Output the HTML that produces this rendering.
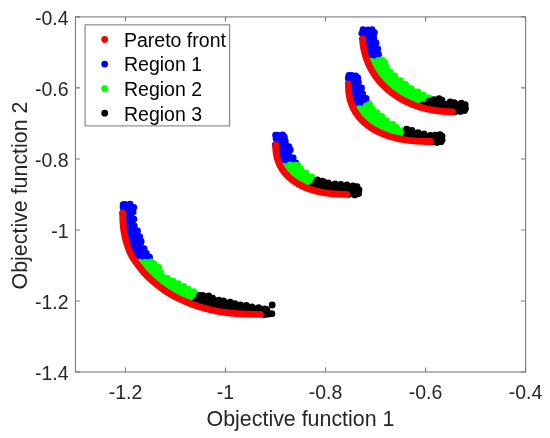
<!DOCTYPE html>
<html><head><meta charset="utf-8"><title>Pareto front</title>
<style>html,body{margin:0;padding:0;background:#fff;overflow:hidden}svg{display:block}</style></head>
<body>
<svg width="550" height="438" viewBox="0 0 550 438" style="display:block">
<rect x="0" y="0" width="550" height="438" fill="#fff"/>
<polygon points="122.7,213.0 122.7,214.7 122.7,216.2 122.8,217.5 122.8,218.8 122.8,220.1 122.9,221.4 123.0,222.6 123.1,223.8 123.2,224.9 123.3,226.1 123.4,227.2 123.5,228.4 123.7,229.5 123.8,230.6 124.0,231.7 124.2,232.8 124.4,233.8 124.6,234.9 124.8,236.0 125.0,237.0 125.3,238.0 125.5,239.1 125.8,240.1 126.1,241.1 126.3,242.1 126.6,243.1 126.9,244.1 127.3,245.1 127.6,246.1 127.9,247.1 128.3,248.0 128.7,249.0 129.0,250.0 129.4,250.9 129.8,251.8 130.2,252.8 130.7,253.7 131.1,254.6 131.6,255.5 132.1,256.4 132.6,257.3 133.1,258.1 133.7,259.0 134.2,259.8 134.8,260.7 135.4,261.5 136.0,262.3 136.6,263.1 137.2,264.0 137.8,264.8 138.4,265.6 139.1,266.4 139.7,267.2 140.3,268.0 140.9,268.8 141.5,269.6 142.2,270.4 142.8,271.1 143.5,271.9 144.1,272.7 144.8,273.4 145.5,274.2 146.2,274.9 146.9,275.7 147.7,276.4 148.4,277.1 149.1,277.9 149.9,278.6 160.2,268.0 152.0,260.4 153.9,259.0 151.9,258.6 151.3,257.5 150.7,256.4 150.1,255.3 149.5,254.2 148.8,253.2 148.1,252.2 147.4,251.2 146.7,250.1 145.9,249.0 145.1,247.9 144.4,246.8 144.0,245.7 143.6,244.5 143.2,243.3 142.8,242.2 142.4,241.1 142.0,240.0 141.6,238.9 141.3,237.8 141.0,236.6 140.7,235.4 140.4,234.3 140.1,233.1 139.8,232.1 139.5,231.1 139.3,230.0 138.6,229.3 138.0,228.5 137.2,227.6 136.5,226.6 135.7,225.5 135.6,224.1 135.5,222.7 135.5,221.3 135.4,220.1 135.0,218.9 134.6,217.5 134.1,216.1 133.7,214.6 134.2,213.5 134.7,212.5 135.3,211.5 135.7,210.7 135.6,209.6 135.6,208.7 135.5,207.7 135.5,206.7 134.7,206.0 134.0,205.3 133.4,204.7 132.5,203.9 131.5,203.5 130.4,203.1 129.4,202.7 128.3,202.7 127.1,202.7 126.0,202.7 124.7,202.8 123.7,202.8 122.7,202.7 121.8,202.6 121.7,203.3 121.5,203.8 121.2,204.4 121.2,205.4 121.2,206.4 121.2,207.4 121.2,208.5 121.2,209.6 121.2,210.8 121.2,211.9 119.6,213.0" fill="#0000ff"/>
<g fill="#0000ff"><circle cx="122.9" cy="213.0" r="3.4"/><circle cx="123.1" cy="207.4" r="3.4"/><circle cx="123.2" cy="204.7" r="3.4"/><circle cx="124.8" cy="204.5" r="3.4"/><circle cx="130.1" cy="204.2" r="3.4"/><circle cx="133.8" cy="207.5" r="3.4"/><circle cx="133.1" cy="212.1" r="3.4"/><circle cx="133.9" cy="219.1" r="3.4"/><circle cx="134.3" cy="226.0" r="3.4"/><circle cx="137.5" cy="230.9" r="3.4"/><circle cx="139.8" cy="236.9" r="3.4"/><circle cx="141.2" cy="241.5" r="3.4"/><circle cx="144.1" cy="248.6" r="3.4"/><circle cx="146.4" cy="253.4" r="3.4"/><circle cx="149.6" cy="257.1" r="3.4"/></g>
<polygon points="135.4,261.5 136.0,262.3 136.6,263.1 137.2,264.0 137.8,264.8 138.4,265.6 139.1,266.4 139.7,267.2 140.3,268.0 140.9,268.8 141.5,269.6 142.2,270.4 142.8,271.1 143.5,271.9 144.1,272.7 144.8,273.4 145.5,274.2 146.2,274.9 146.9,275.7 147.7,276.4 148.4,277.1 149.1,277.9 149.9,278.6 150.7,279.3 151.4,280.0 152.2,280.7 153.0,281.4 153.8,282.0 154.6,282.7 155.4,283.4 156.3,284.1 157.1,284.7 157.9,285.4 158.8,286.1 159.6,286.7 160.5,287.4 161.3,288.0 162.2,288.7 163.1,289.3 164.0,290.0 164.9,290.6 165.8,291.2 166.7,291.8 167.7,292.4 168.6,293.0 169.6,293.6 170.5,294.2 171.5,294.8 172.5,295.3 173.5,295.9 174.5,296.4 175.5,296.9 176.6,297.5 177.6,298.0 178.6,298.5 179.7,299.0 180.8,299.5 181.8,300.0 182.9,300.4 184.0,300.9 185.1,301.4 186.2,301.9 187.3,302.3 188.5,302.8 189.6,303.2 190.7,303.7 191.9,304.1 193.0,304.5 194.2,304.9 195.4,305.4 196.6,305.8 197.7,306.2 198.9,306.5 200.2,306.9 201.4,307.3 202.6,307.7 203.8,308.0 207.5,295.0 197.3,293.7 198.4,291.1 196.5,291.8 195.4,291.2 194.3,290.6 193.2,289.9 192.1,289.3 191.0,288.7 189.9,288.0 188.8,287.4 187.7,286.8 186.5,286.2 185.4,285.6 184.2,285.0 183.1,284.4 182.0,283.9 181.0,283.4 180.0,282.9 178.9,282.4 177.9,281.9 176.8,281.3 175.8,280.8 174.7,280.3 173.7,279.8 172.7,279.3 171.6,278.8 170.5,278.2 169.4,277.7 168.3,277.1 167.3,276.4 166.4,275.6 165.3,274.7 164.3,273.8 163.2,273.0 162.6,271.7 162.1,270.5 161.5,269.3 161.1,268.3 160.6,267.2 159.8,266.5 159.0,265.8 158.2,265.0 157.3,264.2 156.4,263.4 155.5,262.6 154.7,261.9 154.0,261.2 153.3,260.5 152.3,260.5 151.3,260.5 150.4,260.4 149.2,260.4 148.0,260.3 146.9,260.3 145.7,260.2 144.6,260.2 143.4,260.1 142.2,260.1 141.1,260.0 140.0,258.4" fill="#00ff00"/>
<g fill="#00ff00"><circle cx="139.8" cy="262.1" r="3.4"/><circle cx="145.6" cy="262.2" r="3.4"/><circle cx="151.1" cy="261.9" r="3.4"/><circle cx="154.4" cy="263.8" r="3.4"/><circle cx="158.8" cy="267.3" r="3.4"/><circle cx="160.9" cy="272.9" r="3.4"/><circle cx="167.6" cy="278.3" r="3.4"/><circle cx="173.0" cy="281.2" r="3.4"/><circle cx="178.3" cy="283.6" r="3.4"/><circle cx="183.6" cy="286.3" r="3.4"/><circle cx="188.0" cy="288.9" r="3.4"/><circle cx="193.7" cy="291.6" r="3.4"/></g>
<polygon points="190.7,303.7 191.9,304.1 193.0,304.5 194.2,304.9 195.4,305.4 196.6,305.8 197.7,306.2 198.9,306.5 200.2,306.9 201.4,307.3 202.6,307.7 203.8,308.0 205.1,308.4 206.3,308.7 207.6,309.0 208.9,309.4 210.2,309.7 211.5,310.0 212.8,310.3 214.1,310.5 215.4,310.8 216.7,311.1 218.1,311.3 219.4,311.6 220.8,311.8 222.2,312.0 223.5,312.2 224.9,312.4 226.3,312.6 227.7,312.8 229.2,312.9 230.6,313.1 232.1,313.2 233.5,313.4 235.0,313.5 236.5,313.6 238.0,313.7 239.5,313.8 241.0,313.9 242.6,314.0 244.2,314.0 245.8,314.1 247.4,314.1 249.0,314.2 250.7,314.2 252.5,314.3 254.2,314.3 256.1,314.3 258.1,314.3 260.4,314.3 262.0,317.8 263.1,316.1 264.4,316.1 265.6,316.0 266.8,315.9 267.8,315.9 268.6,316.0 269.5,316.2 269.2,315.4 269.0,314.6 269.0,313.7 269.0,312.6 269.0,311.5 269.0,310.5 269.1,309.5 268.5,308.6 268.0,307.8 267.6,306.9 266.7,307.0 265.8,307.0 264.9,307.0 263.7,306.9 262.5,306.8 261.3,306.6 260.2,306.4 259.0,306.1 257.9,305.9 256.7,305.7 255.6,305.5 254.5,305.3 253.4,305.1 252.2,304.9 251.1,304.8 250.0,304.7 248.9,304.5 247.7,304.4 246.6,304.3 245.4,304.1 244.2,304.0 243.1,303.8 242.0,303.5 240.8,303.3 239.7,303.1 238.6,302.8 237.4,302.6 236.3,302.4 235.1,302.2 234.0,301.8 232.8,301.5 231.6,301.2 230.5,300.8 229.4,300.5 228.3,300.2 227.1,299.9 226.0,299.6 224.9,299.4 223.8,299.1 222.7,298.9 221.6,298.7 220.4,298.5 219.2,298.3 218.0,298.1 216.8,297.8 215.7,297.3 214.5,296.7 213.4,296.2 212.4,295.7 211.2,295.3 210.1,295.0 209.0,294.6 207.9,294.3 206.7,294.1 205.5,294.0 204.3,293.8 203.0,293.7 201.8,293.5 200.8,293.4 199.8,293.2 198.8,293.0 198.4,293.8 197.9,294.6 197.4,295.4 196.7,296.4 196.0,297.4 195.3,298.3 193.3,298.4" fill="#000000"/>
<g fill="#000000"><circle cx="196.2" cy="300.4" r="3.4"/><circle cx="199.4" cy="295.3" r="3.4"/><circle cx="202.8" cy="295.3" r="3.4"/><circle cx="208.7" cy="295.8" r="3.4"/><circle cx="212.6" cy="298.1" r="3.4"/><circle cx="218.8" cy="300.2" r="3.4"/><circle cx="223.5" cy="300.8" r="3.4"/><circle cx="230.1" cy="302.2" r="3.4"/><circle cx="234.8" cy="303.7" r="3.4"/><circle cx="240.5" cy="305.0" r="3.4"/><circle cx="246.4" cy="305.5" r="3.4"/><circle cx="251.9" cy="307.0" r="3.4"/><circle cx="258.7" cy="307.6" r="3.4"/><circle cx="264.7" cy="308.9" r="3.4"/><circle cx="266.9" cy="309.6" r="3.4"/><circle cx="267.3" cy="312.6" r="3.4"/><circle cx="267.7" cy="314.2" r="3.4"/><circle cx="264.3" cy="314.5" r="3.4"/><circle cx="272.2" cy="305.0" r="3.4"/><circle cx="271.9" cy="313.7" r="3.4"/></g>
<path d="M122.7,213.0 L122.7,214.7 L122.7,216.2 L122.8,217.5 L122.8,218.8 L122.8,220.1 L122.9,221.4 L123.0,222.6 L123.1,223.8 L123.2,224.9 L123.3,226.1 L123.4,227.2 L123.5,228.4 L123.7,229.5 L123.8,230.6 L124.0,231.7 L124.2,232.8 L124.4,233.8 L124.6,234.9 L124.8,236.0 L125.0,237.0 L125.3,238.0 L125.5,239.1 L125.8,240.1 L126.1,241.1 L126.3,242.1 L126.6,243.1 L126.9,244.1 L127.3,245.1 L127.6,246.1 L127.9,247.1 L128.3,248.0 L128.7,249.0 L129.0,250.0 L129.4,250.9 L129.8,251.8 L130.2,252.8 L130.7,253.7 L131.1,254.6 L131.6,255.5 L132.1,256.4 L132.6,257.3 L133.1,258.1 L133.7,259.0 L134.2,259.8 L134.8,260.7 L135.4,261.5 L136.0,262.3 L136.6,263.1 L137.2,264.0 L137.8,264.8 L138.4,265.6 L139.1,266.4 L139.7,267.2 L140.3,268.0 L140.9,268.8 L141.5,269.6 L142.2,270.4 L142.8,271.1 L143.5,271.9 L144.1,272.7 L144.8,273.4 L145.5,274.2 L146.2,274.9 L146.9,275.7 L147.7,276.4 L148.4,277.1 L149.1,277.9 L149.9,278.6 L150.7,279.3 L151.4,280.0 L152.2,280.7 L153.0,281.4 L153.8,282.0 L154.6,282.7 L155.4,283.4 L156.3,284.1 L157.1,284.7 L157.9,285.4 L158.8,286.1 L159.6,286.7 L160.5,287.4 L161.3,288.0 L162.2,288.7 L163.1,289.3 L164.0,290.0 L164.9,290.6 L165.8,291.2 L166.7,291.8 L167.7,292.4 L168.6,293.0 L169.6,293.6 L170.5,294.2 L171.5,294.8 L172.5,295.3 L173.5,295.9 L174.5,296.4 L175.5,296.9 L176.6,297.5 L177.6,298.0 L178.6,298.5 L179.7,299.0 L180.8,299.5 L181.8,300.0 L182.9,300.4 L184.0,300.9 L185.1,301.4 L186.2,301.9 L187.3,302.3 L188.5,302.8 L189.6,303.2 L190.7,303.7 L191.9,304.1 L193.0,304.5 L194.2,304.9 L195.4,305.4 L196.6,305.8 L197.7,306.2 L198.9,306.5 L200.2,306.9 L201.4,307.3 L202.6,307.7 L203.8,308.0 L205.1,308.4 L206.3,308.7 L207.6,309.0 L208.9,309.4 L210.2,309.7 L211.5,310.0 L212.8,310.3 L214.1,310.5 L215.4,310.8 L216.7,311.1 L218.1,311.3 L219.4,311.6 L220.8,311.8 L222.2,312.0 L223.5,312.2 L224.9,312.4 L226.3,312.6 L227.7,312.8 L229.2,312.9 L230.6,313.1 L232.1,313.2 L233.5,313.4 L235.0,313.5 L236.5,313.6 L238.0,313.7 L239.5,313.8 L241.0,313.9 L242.6,314.0 L244.2,314.0 L245.8,314.1 L247.4,314.1 L249.0,314.2 L250.7,314.2 L252.5,314.3 L254.2,314.3 L256.1,314.3 L258.1,314.3 L260.4,314.3" fill="none" stroke="#ff0000" stroke-width="6.8" stroke-linecap="round" stroke-linejoin="round"/>
<polygon points="275.7,144.8 275.7,145.7 275.7,146.4 275.7,147.1 275.7,147.8 275.8,148.4 275.8,149.0 275.8,149.6 275.9,150.2 275.9,150.8 276.0,151.4 276.1,151.9 276.1,152.5 276.2,153.0 276.3,153.6 276.4,154.1 276.5,154.7 276.6,155.2 276.7,155.7 276.8,156.2 276.9,156.8 277.0,157.3 277.1,157.8 277.3,158.3 277.4,158.8 277.6,159.3 277.7,159.8 277.9,160.2 278.0,160.7 278.2,161.2 278.4,161.7 278.6,162.2 278.7,162.6 278.9,163.1 279.1,163.6 279.3,164.0 279.5,164.5 279.8,164.9 280.0,165.4 280.2,165.8 280.4,166.3 280.7,166.7 280.9,167.1 281.2,167.6 281.4,168.0 281.7,168.4 281.9,168.9 282.2,169.3 282.5,169.7 282.8,170.1 283.1,170.5 283.4,170.9 283.7,171.4 284.0,171.8 284.3,172.2 284.6,172.6 284.9,172.9 285.2,173.3 285.6,173.7 285.9,174.1 286.3,174.5 286.6,174.9 287.0,175.2 287.3,175.6 287.7,176.0 288.1,176.3 288.4,176.7 288.8,177.1 289.2,177.4 289.6,177.8 290.0,178.1 290.4,178.5 290.8,178.8 291.2,179.1 291.6,179.5 292.0,179.8 292.5,180.1 292.9,180.5 301.9,168.5 297.1,162.9 299.0,161.1 297.0,161.0 296.2,159.9 295.5,158.9 294.8,158.0 294.1,157.1 293.3,156.1 292.4,155.0 291.6,153.8 291.9,152.5 292.1,151.1 292.4,149.8 291.9,148.7 291.4,147.7 291.0,146.7 290.5,145.6 289.7,144.8 288.9,143.9 288.1,143.0 287.2,141.9 287.3,140.8 287.4,139.7 287.6,138.5 286.9,137.7 286.3,136.8 285.7,136.0 284.9,135.3 284.3,134.8 283.7,134.2 283.1,133.6 282.1,133.7 281.1,133.7 280.0,133.7 278.8,133.7 277.6,133.8 276.6,133.8 275.7,133.7 274.8,133.6 274.7,134.2 274.4,134.8 274.1,135.4 274.1,136.5 274.1,137.6 274.1,138.8 274.0,140.0 274.0,141.3 274.0,142.5 274.0,143.8 272.4,145.0" fill="#0000ff"/>
<g fill="#0000ff"><circle cx="275.3" cy="145.0" r="3.4"/><circle cx="276.1" cy="138.8" r="3.4"/><circle cx="275.6" cy="135.2" r="3.4"/><circle cx="277.6" cy="135.2" r="3.4"/><circle cx="282.6" cy="134.9" r="3.4"/><circle cx="284.4" cy="137.1" r="3.4"/><circle cx="285.3" cy="141.4" r="3.4"/><circle cx="288.9" cy="146.6" r="3.4"/><circle cx="290.3" cy="150.0" r="3.4"/><circle cx="293.2" cy="157.8" r="3.4"/><circle cx="296.1" cy="163.1" r="3.4"/></g>
<polygon points="279.5,164.5 279.8,164.9 280.0,165.4 280.2,165.8 280.4,166.3 280.7,166.7 280.9,167.1 281.2,167.6 281.4,168.0 281.7,168.4 281.9,168.9 282.2,169.3 282.5,169.7 282.8,170.1 283.1,170.5 283.4,170.9 283.7,171.4 284.0,171.8 284.3,172.2 284.6,172.6 284.9,172.9 285.2,173.3 285.6,173.7 285.9,174.1 286.3,174.5 286.6,174.9 287.0,175.2 287.3,175.6 287.7,176.0 288.1,176.3 288.4,176.7 288.8,177.1 289.2,177.4 289.6,177.8 290.0,178.1 290.4,178.5 290.8,178.8 291.2,179.1 291.6,179.5 292.0,179.8 292.5,180.1 292.9,180.5 293.3,180.8 293.8,181.1 294.2,181.4 294.7,181.7 295.1,182.0 295.6,182.3 296.1,182.6 296.5,182.9 297.0,183.2 297.5,183.5 298.0,183.8 298.5,184.1 299.0,184.4 299.5,184.6 300.0,184.9 300.5,185.2 301.0,185.5 301.5,185.7 302.0,186.0 302.6,186.2 303.1,186.5 303.6,186.7 304.2,187.0 304.7,187.2 305.3,187.4 305.8,187.7 306.4,187.9 307.0,188.1 307.5,188.3 308.1,188.6 308.7,188.8 309.3,189.0 309.9,189.2 310.5,189.4 311.1,189.6 311.7,189.8 312.3,190.0 312.9,190.1 313.5,190.3 314.1,190.5 314.8,190.7 315.4,190.8 316.0,191.0 316.7,191.2 317.3,191.3 317.9,191.5 318.6,191.6 319.3,191.8 319.9,191.9 320.6,192.1 321.3,192.2 321.9,192.3 322.6,192.4 323.3,192.6 324.0,192.7 326.0,180.2 314.8,179.4 315.5,176.4 313.5,176.7 312.7,175.9 311.8,175.1 311.0,174.3 310.0,173.6 308.9,173.0 307.9,172.3 306.9,171.6 306.0,170.8 305.1,170.0 304.1,169.3 303.1,168.5 302.2,167.7 301.4,166.8 300.7,165.9 299.9,165.0 299.4,164.3 298.9,163.6 298.4,162.9 297.5,163.1 296.6,163.2 295.6,163.3 294.4,163.4 293.2,163.5 292.0,163.6 290.9,163.7 289.7,163.9 288.5,164.0 287.3,164.1 286.1,164.2 284.9,164.3 283.6,162.8" fill="#00ff00"/>
<g fill="#00ff00"><circle cx="283.9" cy="166.1" r="3.4"/><circle cx="289.8" cy="165.0" r="3.4"/><circle cx="294.6" cy="165.3" r="3.4"/><circle cx="297.9" cy="165.3" r="3.4"/><circle cx="300.7" cy="169.2" r="3.4"/><circle cx="305.9" cy="172.9" r="3.4"/><circle cx="311.9" cy="176.8" r="3.4"/></g>
<polygon points="308.7,188.8 309.3,189.0 309.9,189.2 310.5,189.4 311.1,189.6 311.7,189.8 312.3,190.0 312.9,190.1 313.5,190.3 314.1,190.5 314.8,190.7 315.4,190.8 316.0,191.0 316.7,191.2 317.3,191.3 317.9,191.5 318.6,191.6 319.3,191.8 319.9,191.9 320.6,192.1 321.3,192.2 321.9,192.3 322.6,192.4 323.3,192.6 324.0,192.7 324.7,192.8 325.4,192.9 326.1,193.0 326.8,193.1 327.5,193.2 328.2,193.3 329.0,193.4 329.7,193.5 330.5,193.6 331.2,193.6 332.0,193.7 332.7,193.8 333.5,193.8 334.3,193.9 335.0,193.9 335.8,194.0 336.6,194.0 337.5,194.1 338.3,194.1 339.1,194.2 340.0,194.2 340.8,194.2 341.7,194.2 342.6,194.3 343.6,194.3 344.6,194.3 345.6,194.3 346.9,194.3 348.0,197.7 349.2,196.1 350.4,196.1 351.6,196.1 352.8,196.0 353.9,196.0 355.0,196.0 356.0,196.0 357.1,195.5 358.0,195.1 359.0,194.8 360.0,194.5 360.0,193.5 360.1,192.7 360.3,191.8 360.5,190.8 360.2,189.7 359.9,188.6 359.7,187.6 359.4,186.6 359.2,185.6 358.4,185.3 357.6,185.0 356.9,184.6 356.0,184.2 355.0,184.2 354.0,184.2 353.0,184.2 351.8,184.2 350.7,184.2 349.5,184.2 348.2,184.0 347.0,183.8 345.8,183.7 344.6,183.5 343.4,183.3 342.2,183.1 341.0,183.0 339.8,182.8 338.7,182.7 337.5,182.6 336.3,182.5 335.2,182.4 333.9,182.3 332.6,182.2 331.4,182.0 330.2,181.5 329.0,180.9 327.9,180.4 327.0,179.9 326.0,179.3 324.9,179.3 323.8,179.2 322.7,179.2 321.5,179.1 320.2,179.0 319.0,178.9 318.1,178.9 317.1,178.7 316.2,178.6 315.7,179.4 315.3,180.1 314.7,180.9 314.0,181.8 313.4,182.7 312.7,183.7 312.0,184.6 310.0,184.6" fill="#000000"/>
<g fill="#000000"><circle cx="312.5" cy="186.4" r="3.4"/><circle cx="315.6" cy="182.9" r="3.4"/><circle cx="317.4" cy="179.9" r="3.4"/><circle cx="322.5" cy="181.2" r="3.4"/><circle cx="328.2" cy="182.8" r="3.4"/><circle cx="335.0" cy="184.0" r="3.4"/><circle cx="340.8" cy="184.5" r="3.4"/><circle cx="346.9" cy="185.0" r="3.4"/><circle cx="353.0" cy="185.9" r="3.4"/><circle cx="357.0" cy="186.7" r="3.4"/><circle cx="359.0" cy="189.8" r="3.4"/><circle cx="358.7" cy="193.5" r="3.4"/><circle cx="354.8" cy="194.9" r="3.4"/><circle cx="349.2" cy="194.3" r="3.4"/></g>
<path d="M275.7,144.8 L275.7,145.7 L275.7,146.4 L275.7,147.1 L275.7,147.8 L275.8,148.4 L275.8,149.0 L275.8,149.6 L275.9,150.2 L275.9,150.8 L276.0,151.4 L276.1,151.9 L276.1,152.5 L276.2,153.0 L276.3,153.6 L276.4,154.1 L276.5,154.7 L276.6,155.2 L276.7,155.7 L276.8,156.2 L276.9,156.8 L277.0,157.3 L277.1,157.8 L277.3,158.3 L277.4,158.8 L277.6,159.3 L277.7,159.8 L277.9,160.2 L278.0,160.7 L278.2,161.2 L278.4,161.7 L278.6,162.2 L278.7,162.6 L278.9,163.1 L279.1,163.6 L279.3,164.0 L279.5,164.5 L279.8,164.9 L280.0,165.4 L280.2,165.8 L280.4,166.3 L280.7,166.7 L280.9,167.1 L281.2,167.6 L281.4,168.0 L281.7,168.4 L281.9,168.9 L282.2,169.3 L282.5,169.7 L282.8,170.1 L283.1,170.5 L283.4,170.9 L283.7,171.4 L284.0,171.8 L284.3,172.2 L284.6,172.6 L284.9,172.9 L285.2,173.3 L285.6,173.7 L285.9,174.1 L286.3,174.5 L286.6,174.9 L287.0,175.2 L287.3,175.6 L287.7,176.0 L288.1,176.3 L288.4,176.7 L288.8,177.1 L289.2,177.4 L289.6,177.8 L290.0,178.1 L290.4,178.5 L290.8,178.8 L291.2,179.1 L291.6,179.5 L292.0,179.8 L292.5,180.1 L292.9,180.5 L293.3,180.8 L293.8,181.1 L294.2,181.4 L294.7,181.7 L295.1,182.0 L295.6,182.3 L296.1,182.6 L296.5,182.9 L297.0,183.2 L297.5,183.5 L298.0,183.8 L298.5,184.1 L299.0,184.4 L299.5,184.6 L300.0,184.9 L300.5,185.2 L301.0,185.5 L301.5,185.7 L302.0,186.0 L302.6,186.2 L303.1,186.5 L303.6,186.7 L304.2,187.0 L304.7,187.2 L305.3,187.4 L305.8,187.7 L306.4,187.9 L307.0,188.1 L307.5,188.3 L308.1,188.6 L308.7,188.8 L309.3,189.0 L309.9,189.2 L310.5,189.4 L311.1,189.6 L311.7,189.8 L312.3,190.0 L312.9,190.1 L313.5,190.3 L314.1,190.5 L314.8,190.7 L315.4,190.8 L316.0,191.0 L316.7,191.2 L317.3,191.3 L317.9,191.5 L318.6,191.6 L319.3,191.8 L319.9,191.9 L320.6,192.1 L321.3,192.2 L321.9,192.3 L322.6,192.4 L323.3,192.6 L324.0,192.7 L324.7,192.8 L325.4,192.9 L326.1,193.0 L326.8,193.1 L327.5,193.2 L328.2,193.3 L329.0,193.4 L329.7,193.5 L330.5,193.6 L331.2,193.6 L332.0,193.7 L332.7,193.8 L333.5,193.8 L334.3,193.9 L335.0,193.9 L335.8,194.0 L336.6,194.0 L337.5,194.1 L338.3,194.1 L339.1,194.2 L340.0,194.2 L340.8,194.2 L341.7,194.2 L342.6,194.3 L343.6,194.3 L344.6,194.3 L345.6,194.3 L346.9,194.3" fill="none" stroke="#ff0000" stroke-width="6.8" stroke-linecap="round" stroke-linejoin="round"/>
<polygon points="348.4,84.0 348.4,85.1 348.4,86.0 348.4,86.8 348.5,87.6 348.5,88.3 348.5,89.1 348.6,89.8 348.6,90.5 348.7,91.2 348.7,91.8 348.8,92.5 348.9,93.2 349.0,93.8 349.1,94.4 349.2,95.1 349.3,95.7 349.4,96.3 349.5,96.9 349.6,97.5 349.8,98.1 349.9,98.7 350.0,99.3 350.2,99.9 350.4,100.5 350.5,101.1 350.7,101.6 350.9,102.2 351.1,102.8 351.3,103.3 351.5,103.9 351.7,104.4 351.9,105.0 352.1,105.5 352.3,106.1 352.5,106.6 352.8,107.1 353.0,107.7 353.3,108.2 353.5,108.7 353.8,109.2 354.1,109.7 354.4,110.2 354.6,110.7 354.9,111.2 355.2,111.7 355.5,112.2 355.8,112.7 356.2,113.2 356.5,113.7 356.8,114.2 357.2,114.6 357.5,115.1 357.8,115.6 358.2,116.0 358.6,116.5 358.9,116.9 359.3,117.4 359.7,117.8 372.3,107.1 368.4,101.9 370.5,100.6 368.6,100.3 368.2,99.4 367.7,98.5 367.3,97.6 366.7,96.7 366.1,95.9 365.4,95.0 364.7,94.0 364.0,92.9 363.3,91.9 363.1,90.6 363.0,89.5 362.9,88.4 362.8,87.5 362.1,86.5 361.4,85.3 360.7,84.2 360.0,83.0 359.9,81.7 359.9,80.6 359.9,79.4 359.9,78.5 359.5,77.4 359.0,76.4 358.6,75.3 357.8,74.8 357.1,74.4 356.4,73.9 355.6,73.3 354.7,73.4 353.7,73.4 352.7,73.4 351.6,73.4 350.4,73.5 349.5,73.5 348.7,73.4 347.8,73.3 347.5,74.1 347.1,74.8 346.6,75.5 346.7,76.4 346.7,77.4 346.7,78.4 346.6,79.5 346.6,80.6 346.6,81.8 346.6,82.9 345.0,84.0" fill="#0000ff"/>
<g fill="#0000ff"><circle cx="348.5" cy="84.0" r="3.4"/><circle cx="348.3" cy="78.4" r="3.4"/><circle cx="348.9" cy="75.4" r="3.4"/><circle cx="351.6" cy="75.3" r="3.4"/><circle cx="355.7" cy="75.8" r="3.4"/><circle cx="357.8" cy="78.0" r="3.4"/><circle cx="358.4" cy="82.1" r="3.4"/><circle cx="361.5" cy="88.0" r="3.4"/><circle cx="362.6" cy="93.6" r="3.4"/><circle cx="366.1" cy="98.3" r="3.4"/></g>
<polygon points="353.3,108.2 353.5,108.7 353.8,109.2 354.1,109.7 354.4,110.2 354.6,110.7 354.9,111.2 355.2,111.7 355.5,112.2 355.8,112.7 356.2,113.2 356.5,113.7 356.8,114.2 357.2,114.6 357.5,115.1 357.8,115.6 358.2,116.0 358.6,116.5 358.9,116.9 359.3,117.4 359.7,117.8 360.1,118.3 360.5,118.7 360.9,119.2 361.3,119.6 361.7,120.0 362.1,120.4 362.5,120.9 362.9,121.3 363.4,121.7 363.8,122.1 364.3,122.5 364.7,122.9 365.2,123.3 365.6,123.7 366.1,124.1 366.6,124.5 367.1,124.9 367.6,125.2 368.1,125.6 368.6,126.0 369.1,126.3 369.6,126.7 370.1,127.1 370.6,127.4 371.1,127.8 371.7,128.1 372.2,128.5 372.8,128.8 373.3,129.1 373.9,129.5 374.4,129.8 375.0,130.1 375.6,130.4 376.2,130.7 376.8,131.0 377.3,131.3 377.9,131.6 378.5,131.9 379.2,132.2 379.8,132.5 380.4,132.8 381.0,133.1 381.6,133.3 382.3,133.6 382.9,133.9 383.6,134.1 384.2,134.4 384.9,134.7 385.5,134.9 386.2,135.1 386.9,135.4 387.5,135.6 388.2,135.9 388.9,136.1 389.6,136.3 390.3,136.5 391.0,136.7 391.7,136.9 392.4,137.1 393.2,137.3 393.9,137.5 394.6,137.7 395.4,137.9 396.1,138.1 396.8,138.3 397.6,138.4 398.4,138.6 399.1,138.8 399.9,138.9 400.7,139.1 401.4,139.2 402.2,139.4 403.0,139.5 403.8,139.6 404.6,139.8 405.4,139.9 406.3,140.0 407.1,140.1 407.9,140.2 408.8,140.4 409.6,140.5 410.5,140.6 411.3,140.6 412.2,140.7 413.4,130.2 403.5,128.4 402.5,127.0 400.6,127.7 399.5,127.1 398.4,126.4 397.4,125.8 396.4,125.1 395.4,124.5 394.4,123.9 393.4,123.2 392.4,122.6 391.4,122.0 390.4,121.3 389.4,120.6 388.4,119.8 387.4,119.1 386.4,118.4 385.4,117.6 384.4,116.9 383.4,116.1 382.5,115.4 381.6,114.6 380.8,113.8 379.9,113.0 379.0,112.3 378.2,111.5 377.3,110.7 376.4,110.0 375.6,109.1 374.7,108.3 373.8,107.4 372.9,106.6 372.2,105.6 371.4,104.6 370.9,103.9 370.4,103.1 370.1,102.3 369.3,102.8 368.6,103.2 367.7,103.6 366.6,104.0 365.5,104.4 364.4,104.9 363.3,105.3 362.2,105.7 361.1,106.1 360.0,106.6 358.3,105.5" fill="#00ff00"/>
<g fill="#00ff00"><circle cx="359.5" cy="108.7" r="3.4"/><circle cx="366.1" cy="105.8" r="3.4"/><circle cx="369.5" cy="104.2" r="3.4"/><circle cx="372.3" cy="108.8" r="3.4"/><circle cx="377.1" cy="112.7" r="3.4"/><circle cx="381.7" cy="116.4" r="3.4"/><circle cx="386.2" cy="120.7" r="3.4"/><circle cx="392.7" cy="124.4" r="3.4"/><circle cx="396.4" cy="127.3" r="3.4"/></g>
<polygon points="403.0,139.5 403.8,139.6 404.6,139.8 405.4,139.9 406.3,140.0 407.1,140.1 407.9,140.2 408.8,140.4 409.6,140.5 410.5,140.6 411.3,140.6 412.2,140.7 413.1,140.8 414.0,140.9 414.9,141.0 415.8,141.0 416.7,141.1 417.6,141.2 418.5,141.2 419.5,141.3 420.5,141.3 421.4,141.3 422.4,141.4 423.5,141.4 424.5,141.4 425.6,141.5 426.7,141.5 427.9,141.5 429.1,141.5 430.7,141.5 431.0,145.1 432.3,143.6 433.6,143.6 434.8,143.7 436.0,143.8 437.1,143.9 438.2,143.9 439.3,144.0 440.3,143.6 441.2,143.2 441.9,142.9 442.7,142.7 443.5,142.5 443.5,141.5 443.6,140.5 443.7,139.7 443.9,138.6 444.1,137.6 443.6,136.7 443.1,135.8 442.8,135.1 442.4,134.3 442.1,133.4 441.2,133.4 440.3,133.4 439.4,133.3 438.3,133.2 437.3,133.0 436.2,132.9 435.1,133.0 434.0,133.2 432.9,133.3 431.7,133.4 430.4,133.6 429.2,133.7 428.0,133.4 426.7,133.1 425.5,132.8 424.3,132.5 423.1,132.2 422.0,131.9 420.9,131.6 419.8,131.3 418.7,131.0 417.6,130.6 416.5,130.3 415.4,130.0 414.4,129.7 413.3,129.4 412.1,129.1 411.0,128.9 409.8,128.7 408.6,128.5 407.3,128.2 406.4,128.0 405.7,127.8 405.0,127.3 405.3,128.0 405.4,128.8 405.4,129.7 405.3,130.9 405.2,132.1 405.1,133.3 405.1,134.5 403.4,135.6" fill="#000000"/>
<g fill="#000000"><circle cx="406.3" cy="135.8" r="3.4"/><circle cx="406.7" cy="129.2" r="3.4"/><circle cx="407.0" cy="130.0" r="3.4"/><circle cx="411.9" cy="130.4" r="3.4"/><circle cx="418.2" cy="132.6" r="3.4"/><circle cx="424.0" cy="133.8" r="3.4"/><circle cx="430.4" cy="135.3" r="3.4"/><circle cx="435.2" cy="135.1" r="3.4"/><circle cx="440.0" cy="134.6" r="3.4"/><circle cx="442.0" cy="136.2" r="3.4"/><circle cx="442.1" cy="140.1" r="3.4"/><circle cx="441.0" cy="141.7" r="3.4"/><circle cx="437.1" cy="142.4" r="3.4"/><circle cx="432.4" cy="141.9" r="3.4"/></g>
<path d="M348.4,84.0 L348.4,85.1 L348.4,86.0 L348.4,86.8 L348.5,87.6 L348.5,88.3 L348.5,89.1 L348.6,89.8 L348.6,90.5 L348.7,91.2 L348.7,91.8 L348.8,92.5 L348.9,93.2 L349.0,93.8 L349.1,94.4 L349.2,95.1 L349.3,95.7 L349.4,96.3 L349.5,96.9 L349.6,97.5 L349.8,98.1 L349.9,98.7 L350.0,99.3 L350.2,99.9 L350.4,100.5 L350.5,101.1 L350.7,101.6 L350.9,102.2 L351.1,102.8 L351.3,103.3 L351.5,103.9 L351.7,104.4 L351.9,105.0 L352.1,105.5 L352.3,106.1 L352.5,106.6 L352.8,107.1 L353.0,107.7 L353.3,108.2 L353.5,108.7 L353.8,109.2 L354.1,109.7 L354.4,110.2 L354.6,110.7 L354.9,111.2 L355.2,111.7 L355.5,112.2 L355.8,112.7 L356.2,113.2 L356.5,113.7 L356.8,114.2 L357.2,114.6 L357.5,115.1 L357.8,115.6 L358.2,116.0 L358.6,116.5 L358.9,116.9 L359.3,117.4 L359.7,117.8 L360.1,118.3 L360.5,118.7 L360.9,119.2 L361.3,119.6 L361.7,120.0 L362.1,120.4 L362.5,120.9 L362.9,121.3 L363.4,121.7 L363.8,122.1 L364.3,122.5 L364.7,122.9 L365.2,123.3 L365.6,123.7 L366.1,124.1 L366.6,124.5 L367.1,124.9 L367.6,125.2 L368.1,125.6 L368.6,126.0 L369.1,126.3 L369.6,126.7 L370.1,127.1 L370.6,127.4 L371.1,127.8 L371.7,128.1 L372.2,128.5 L372.8,128.8 L373.3,129.1 L373.9,129.5 L374.4,129.8 L375.0,130.1 L375.6,130.4 L376.2,130.7 L376.8,131.0 L377.3,131.3 L377.9,131.6 L378.5,131.9 L379.2,132.2 L379.8,132.5 L380.4,132.8 L381.0,133.1 L381.6,133.3 L382.3,133.6 L382.9,133.9 L383.6,134.1 L384.2,134.4 L384.9,134.7 L385.5,134.9 L386.2,135.1 L386.9,135.4 L387.5,135.6 L388.2,135.9 L388.9,136.1 L389.6,136.3 L390.3,136.5 L391.0,136.7 L391.7,136.9 L392.4,137.1 L393.2,137.3 L393.9,137.5 L394.6,137.7 L395.4,137.9 L396.1,138.1 L396.8,138.3 L397.6,138.4 L398.4,138.6 L399.1,138.8 L399.9,138.9 L400.7,139.1 L401.4,139.2 L402.2,139.4 L403.0,139.5 L403.8,139.6 L404.6,139.8 L405.4,139.9 L406.3,140.0 L407.1,140.1 L407.9,140.2 L408.8,140.4 L409.6,140.5 L410.5,140.6 L411.3,140.6 L412.2,140.7 L413.1,140.8 L414.0,140.9 L414.9,141.0 L415.8,141.0 L416.7,141.1 L417.6,141.2 L418.5,141.2 L419.5,141.3 L420.5,141.3 L421.4,141.3 L422.4,141.4 L423.5,141.4 L424.5,141.4 L425.6,141.5 L426.7,141.5 L427.9,141.5 L429.1,141.5 L430.7,141.5" fill="none" stroke="#ff0000" stroke-width="6.8" stroke-linecap="round" stroke-linejoin="round"/>
<polygon points="362.6,38.9 362.6,39.4 362.6,39.8 362.7,40.2 362.7,40.7 362.7,41.1 362.8,41.5 362.8,42.0 362.8,42.4 362.9,42.8 362.9,43.2 363.0,43.7 363.0,44.1 363.1,44.5 363.1,44.9 363.2,45.4 363.3,45.8 363.3,46.2 363.4,46.6 363.5,47.0 363.5,47.4 363.6,47.9 363.7,48.3 363.8,48.7 363.8,49.1 363.9,49.5 364.0,49.9 364.1,50.3 364.2,50.7 364.3,51.1 364.4,51.6 364.5,52.0 364.6,52.4 364.7,52.8 364.8,53.2 364.9,53.6 365.0,54.0 365.1,54.4 365.2,54.8 365.3,55.2 365.4,55.6 365.5,56.0 365.7,56.4 365.8,56.8 365.9,57.2 366.1,57.6 366.2,57.9 366.3,58.3 366.5,58.7 366.6,59.1 366.7,59.5 366.9,59.9 367.0,60.3 367.2,60.7 367.3,61.1 367.5,61.4 367.6,61.8 367.8,62.2 367.9,62.6 368.1,63.0 368.3,63.3 368.4,63.7 368.6,64.1 368.8,64.5 368.9,64.8 369.1,65.2 369.3,65.6 369.5,66.0 369.6,66.3 369.8,66.7 370.0,67.1 370.2,67.4 370.4,67.8 370.6,68.2 370.8,68.5 371.0,68.9 371.2,69.3 371.4,69.6 385.5,61.7 380.3,57.1 382.7,55.0 380.6,54.7 380.0,53.7 379.3,52.6 379.5,51.5 379.7,50.4 379.8,49.3 379.3,48.4 378.7,47.3 378.1,46.1 377.4,44.8 377.7,43.8 378.0,42.7 378.3,41.7 377.7,40.9 377.1,39.9 376.5,38.9 375.8,37.7 376.1,36.5 376.4,35.2 376.7,34.0 376.1,33.1 375.4,32.2 374.8,31.2 374.1,30.1 373.7,29.3 373.4,28.6 373.1,27.8 372.2,27.9 371.3,28.0 370.4,28.0 369.2,28.0 368.0,28.0 366.9,28.1 365.7,28.1 364.5,28.1 363.6,28.1 362.8,28.0 361.9,27.8 361.5,28.7 361.1,29.6 360.6,30.4 360.7,31.4 360.7,32.4 360.7,33.4 360.7,34.5 360.8,35.6 360.8,36.7 360.8,37.9 359.2,39.0" fill="#0000ff"/>
<g fill="#0000ff"><circle cx="362.6" cy="39.0" r="3.4"/><circle cx="361.8" cy="33.3" r="3.4"/><circle cx="363.0" cy="29.6" r="3.4"/><circle cx="368.1" cy="30.0" r="3.4"/><circle cx="372.1" cy="29.6" r="3.4"/><circle cx="374.4" cy="32.7" r="3.4"/><circle cx="373.8" cy="38.0" r="3.4"/><circle cx="376.0" cy="43.0" r="3.4"/><circle cx="377.8" cy="48.8" r="3.4"/><circle cx="378.5" cy="54.1" r="3.4"/></g>
<polygon points="366.6,59.1 366.7,59.5 366.9,59.9 367.0,60.3 367.2,60.7 367.3,61.1 367.5,61.4 367.6,61.8 367.8,62.2 367.9,62.6 368.1,63.0 368.3,63.3 368.4,63.7 368.6,64.1 368.8,64.5 368.9,64.8 369.1,65.2 369.3,65.6 369.5,66.0 369.6,66.3 369.8,66.7 370.0,67.1 370.2,67.4 370.4,67.8 370.6,68.2 370.8,68.5 371.0,68.9 371.2,69.3 371.4,69.6 371.6,70.0 371.8,70.4 372.0,70.7 372.2,71.1 372.4,71.4 372.6,71.8 372.8,72.1 373.1,72.5 373.3,72.8 373.5,73.2 373.7,73.5 374.0,73.9 374.2,74.2 374.4,74.6 374.7,74.9 374.9,75.3 375.1,75.6 375.4,76.0 375.6,76.3 375.9,76.6 376.1,77.0 376.3,77.3 376.6,77.6 376.8,78.0 377.1,78.3 377.4,78.6 377.6,79.0 377.9,79.3 378.1,79.6 378.4,80.0 378.7,80.3 378.9,80.6 379.2,80.9 379.5,81.2 379.8,81.6 380.0,81.9 380.3,82.2 380.6,82.5 380.9,82.8 381.2,83.1 381.4,83.5 381.7,83.8 382.0,84.1 382.3,84.4 382.6,84.7 382.9,85.0 383.2,85.3 383.5,85.6 383.8,85.9 384.1,86.2 384.4,86.5 384.7,86.8 385.0,87.1 385.3,87.4 385.6,87.7 386.0,88.0 386.3,88.2 386.6,88.5 386.9,88.8 387.2,89.1 387.6,89.4 387.9,89.7 388.2,89.9 388.5,90.2 388.9,90.5 389.2,90.8 389.5,91.0 389.9,91.3 390.2,91.6 390.6,91.9 390.9,92.1 391.2,92.4 391.6,92.7 391.9,92.9 392.3,93.2 392.6,93.4 393.0,93.7 393.3,93.9 393.7,94.2 394.0,94.5 394.4,94.7 394.8,95.0 395.1,95.2 395.5,95.5 395.9,95.7 396.2,95.9 396.6,96.2 397.0,96.4 397.3,96.7 397.7,96.9 398.1,97.1 398.5,97.4 398.8,97.6 399.2,97.8 399.6,98.0 400.0,98.3 400.4,98.5 400.7,98.7 401.1,98.9 401.5,99.2 401.9,99.4 402.3,99.6 402.7,99.8 403.1,100.0 403.5,100.2 403.9,100.4 404.3,100.6 404.7,100.9 405.1,101.1 405.5,101.3 405.9,101.5 406.3,101.7 406.7,101.9 407.1,102.0 407.5,102.2 407.9,102.4 408.4,102.6 408.8,102.8 409.2,103.0 409.6,103.2 410.0,103.4 410.4,103.5 410.9,103.7 411.3,103.9 411.7,104.1 412.1,104.2 412.6,104.4 413.0,104.6 413.4,104.7 413.8,104.9 414.3,105.1 414.7,105.2 415.1,105.4 415.6,105.6 416.0,105.7 416.4,105.9 416.9,106.0 417.3,106.2 417.8,106.3 418.2,106.5 418.6,106.6 419.1,106.7 419.5,106.9 420.0,107.0 420.4,107.2 420.9,107.3 421.3,107.4 421.8,107.6 422.2,107.7 422.7,107.8 423.1,107.9 423.6,108.1 424.1,108.2 424.5,108.3 425.0,108.4 425.4,108.5 425.9,108.7 426.4,108.8 426.8,108.9 427.3,109.0 427.8,109.1 428.2,109.2 428.7,109.3 429.2,109.4 429.6,109.5 430.1,109.6 430.6,109.7 431.0,109.8 431.5,109.9 432.0,109.9 432.5,110.0 432.9,110.1 433.4,110.2 433.9,110.3 434.4,110.4 434.9,110.4 435.3,110.5 435.8,110.6 436.3,110.6 436.8,110.7 437.3,110.8 437.8,110.8 438.3,110.9 438.8,111.0 440.3,98.2 431.5,98.9 431.5,95.6 429.7,96.4 428.6,95.9 427.6,95.3 426.5,94.7 425.5,94.1 424.4,93.6 423.3,93.0 422.2,92.4 421.0,91.9 419.9,91.3 418.8,90.7 417.7,90.0 416.6,89.4 415.5,88.7 414.4,88.1 413.3,87.5 412.3,86.8 411.2,86.2 410.2,85.5 409.2,84.9 408.3,84.3 407.3,83.6 406.4,83.0 405.4,82.4 404.4,81.7 403.5,81.1 402.5,80.3 401.5,79.5 400.5,78.7 399.5,77.9 398.6,77.2 397.6,76.4 396.6,75.6 395.6,74.8 394.8,74.0 393.9,73.1 393.1,72.3 392.2,71.5 391.4,70.6 390.5,69.8 389.6,68.9 388.6,68.0 387.7,67.0 387.3,65.7 387.0,64.5 386.7,63.3 386.5,62.3 386.2,61.3 385.5,60.8 384.7,60.2 384.0,59.6 383.3,59.0 382.7,58.4 382.1,57.7 381.1,57.9 380.1,58.1 379.1,58.3 378.0,58.4 376.8,58.6 375.6,58.7 374.4,58.9 373.2,59.1 372.0,59.2 370.6,57.8" fill="#00ff00"/>
<g fill="#00ff00"><circle cx="371.0" cy="61.1" r="3.4"/><circle cx="378.2" cy="60.5" r="3.4"/><circle cx="382.0" cy="59.9" r="3.4"/><circle cx="384.6" cy="62.4" r="3.4"/><circle cx="386.0" cy="66.4" r="3.4"/><circle cx="390.2" cy="71.8" r="3.4"/><circle cx="394.7" cy="75.9" r="3.4"/><circle cx="400.5" cy="80.7" r="3.4"/><circle cx="405.5" cy="84.3" r="3.4"/><circle cx="411.2" cy="88.6" r="3.4"/><circle cx="418.1" cy="92.0" r="3.4"/><circle cx="423.6" cy="95.1" r="3.4"/><circle cx="428.8" cy="98.0" r="3.4"/></g>
<polygon points="420.0,107.0 420.4,107.2 420.9,107.3 421.3,107.4 421.8,107.6 422.2,107.7 422.7,107.8 423.1,107.9 423.6,108.1 424.1,108.2 424.5,108.3 425.0,108.4 425.4,108.5 425.9,108.7 426.4,108.8 426.8,108.9 427.3,109.0 427.8,109.1 428.2,109.2 428.7,109.3 429.2,109.4 429.6,109.5 430.1,109.6 430.6,109.7 431.0,109.8 431.5,109.9 432.0,109.9 432.5,110.0 432.9,110.1 433.4,110.2 433.9,110.3 434.4,110.4 434.9,110.4 435.3,110.5 435.8,110.6 436.3,110.6 436.8,110.7 437.3,110.8 437.8,110.8 438.3,110.9 438.8,111.0 439.2,111.0 439.7,111.1 440.2,111.1 440.7,111.2 441.2,111.2 441.7,111.3 442.2,111.3 442.7,111.4 443.2,111.4 443.7,111.5 444.2,111.5 444.7,111.5 445.2,111.6 445.7,111.6 446.2,111.6 446.8,111.6 447.3,111.7 447.8,111.7 448.3,111.7 448.8,111.7 449.3,111.8 449.9,111.8 450.4,111.8 450.9,111.8 451.5,111.8 452.0,111.8 452.6,111.8 453.0,114.8 454.1,113.2 455.2,113.2 456.4,113.2 457.5,113.2 458.6,113.2 459.7,113.2 460.7,113.2 461.7,113.2 462.7,112.9 463.6,112.5 464.5,112.1 465.3,111.9 466.1,111.7 466.9,111.5 467.1,110.5 467.2,109.5 467.4,108.6 467.6,107.6 467.9,106.5 467.4,105.8 466.9,105.0 466.5,104.4 466.1,103.6 465.7,102.8 464.7,102.7 463.8,102.5 462.8,102.3 461.7,102.1 460.5,101.8 459.4,101.6 458.1,101.4 456.9,101.1 455.6,100.9 454.4,100.7 453.3,100.5 452.1,100.3 451.0,100.5 450.0,100.7 448.7,100.8 447.4,101.0 446.1,101.2 444.9,100.5 443.8,99.8 442.6,99.0 441.8,98.5 441.0,97.9 440.2,97.4 439.2,97.5 438.1,97.6 437.1,97.7 435.8,97.9 434.7,98.0 433.6,98.0 432.4,98.1 431.5,98.6 430.5,99.1 429.6,99.6 428.5,100.1 427.5,100.7 426.4,101.2 425.4,101.7 424.3,102.3 423.3,102.8 421.5,101.9" fill="#000000"/>
<g fill="#000000"><circle cx="422.9" cy="104.8" r="3.4"/><circle cx="429.0" cy="101.1" r="3.4"/><circle cx="433.9" cy="99.6" r="3.4"/><circle cx="439.0" cy="98.7" r="3.4"/><circle cx="442.0" cy="100.1" r="3.4"/><circle cx="450.1" cy="102.0" r="3.4"/><circle cx="454.2" cy="102.6" r="3.4"/><circle cx="461.4" cy="103.2" r="3.4"/><circle cx="465.2" cy="104.6" r="3.4"/><circle cx="465.5" cy="108.4" r="3.4"/><circle cx="464.5" cy="110.5" r="3.4"/><circle cx="460.5" cy="111.4" r="3.4"/><circle cx="455.2" cy="111.8" r="3.4"/></g>
<path d="M362.6,38.9 L362.6,39.4 L362.6,39.8 L362.7,40.2 L362.7,40.7 L362.7,41.1 L362.8,41.5 L362.8,42.0 L362.8,42.4 L362.9,42.8 L362.9,43.2 L363.0,43.7 L363.0,44.1 L363.1,44.5 L363.1,44.9 L363.2,45.4 L363.3,45.8 L363.3,46.2 L363.4,46.6 L363.5,47.0 L363.5,47.4 L363.6,47.9 L363.7,48.3 L363.8,48.7 L363.8,49.1 L363.9,49.5 L364.0,49.9 L364.1,50.3 L364.2,50.7 L364.3,51.1 L364.4,51.6 L364.5,52.0 L364.6,52.4 L364.7,52.8 L364.8,53.2 L364.9,53.6 L365.0,54.0 L365.1,54.4 L365.2,54.8 L365.3,55.2 L365.4,55.6 L365.5,56.0 L365.7,56.4 L365.8,56.8 L365.9,57.2 L366.1,57.6 L366.2,57.9 L366.3,58.3 L366.5,58.7 L366.6,59.1 L366.7,59.5 L366.9,59.9 L367.0,60.3 L367.2,60.7 L367.3,61.1 L367.5,61.4 L367.6,61.8 L367.8,62.2 L367.9,62.6 L368.1,63.0 L368.3,63.3 L368.4,63.7 L368.6,64.1 L368.8,64.5 L368.9,64.8 L369.1,65.2 L369.3,65.6 L369.5,66.0 L369.6,66.3 L369.8,66.7 L370.0,67.1 L370.2,67.4 L370.4,67.8 L370.6,68.2 L370.8,68.5 L371.0,68.9 L371.2,69.3 L371.4,69.6 L371.6,70.0 L371.8,70.4 L372.0,70.7 L372.2,71.1 L372.4,71.4 L372.6,71.8 L372.8,72.1 L373.1,72.5 L373.3,72.8 L373.5,73.2 L373.7,73.5 L374.0,73.9 L374.2,74.2 L374.4,74.6 L374.7,74.9 L374.9,75.3 L375.1,75.6 L375.4,76.0 L375.6,76.3 L375.9,76.6 L376.1,77.0 L376.3,77.3 L376.6,77.6 L376.8,78.0 L377.1,78.3 L377.4,78.6 L377.6,79.0 L377.9,79.3 L378.1,79.6 L378.4,80.0 L378.7,80.3 L378.9,80.6 L379.2,80.9 L379.5,81.2 L379.8,81.6 L380.0,81.9 L380.3,82.2 L380.6,82.5 L380.9,82.8 L381.2,83.1 L381.4,83.5 L381.7,83.8 L382.0,84.1 L382.3,84.4 L382.6,84.7 L382.9,85.0 L383.2,85.3 L383.5,85.6 L383.8,85.9 L384.1,86.2 L384.4,86.5 L384.7,86.8 L385.0,87.1 L385.3,87.4 L385.6,87.7 L386.0,88.0 L386.3,88.2 L386.6,88.5 L386.9,88.8 L387.2,89.1 L387.6,89.4 L387.9,89.7 L388.2,89.9 L388.5,90.2 L388.9,90.5 L389.2,90.8 L389.5,91.0 L389.9,91.3 L390.2,91.6 L390.6,91.9 L390.9,92.1 L391.2,92.4 L391.6,92.7 L391.9,92.9 L392.3,93.2 L392.6,93.4 L393.0,93.7 L393.3,93.9 L393.7,94.2 L394.0,94.5 L394.4,94.7 L394.8,95.0 L395.1,95.2 L395.5,95.5 L395.9,95.7 L396.2,95.9 L396.6,96.2 L397.0,96.4 L397.3,96.7 L397.7,96.9 L398.1,97.1 L398.5,97.4 L398.8,97.6 L399.2,97.8 L399.6,98.0 L400.0,98.3 L400.4,98.5 L400.7,98.7 L401.1,98.9 L401.5,99.2 L401.9,99.4 L402.3,99.6 L402.7,99.8 L403.1,100.0 L403.5,100.2 L403.9,100.4 L404.3,100.6 L404.7,100.9 L405.1,101.1 L405.5,101.3 L405.9,101.5 L406.3,101.7 L406.7,101.9 L407.1,102.0 L407.5,102.2 L407.9,102.4 L408.4,102.6 L408.8,102.8 L409.2,103.0 L409.6,103.2 L410.0,103.4 L410.4,103.5 L410.9,103.7 L411.3,103.9 L411.7,104.1 L412.1,104.2 L412.6,104.4 L413.0,104.6 L413.4,104.7 L413.8,104.9 L414.3,105.1 L414.7,105.2 L415.1,105.4 L415.6,105.6 L416.0,105.7 L416.4,105.9 L416.9,106.0 L417.3,106.2 L417.8,106.3 L418.2,106.5 L418.6,106.6 L419.1,106.7 L419.5,106.9 L420.0,107.0 L420.4,107.2 L420.9,107.3 L421.3,107.4 L421.8,107.6 L422.2,107.7 L422.7,107.8 L423.1,107.9 L423.6,108.1 L424.1,108.2 L424.5,108.3 L425.0,108.4 L425.4,108.5 L425.9,108.7 L426.4,108.8 L426.8,108.9 L427.3,109.0 L427.8,109.1 L428.2,109.2 L428.7,109.3 L429.2,109.4 L429.6,109.5 L430.1,109.6 L430.6,109.7 L431.0,109.8 L431.5,109.9 L432.0,109.9 L432.5,110.0 L432.9,110.1 L433.4,110.2 L433.9,110.3 L434.4,110.4 L434.9,110.4 L435.3,110.5 L435.8,110.6 L436.3,110.6 L436.8,110.7 L437.3,110.8 L437.8,110.8 L438.3,110.9 L438.8,111.0 L439.2,111.0 L439.7,111.1 L440.2,111.1 L440.7,111.2 L441.2,111.2 L441.7,111.3 L442.2,111.3 L442.7,111.4 L443.2,111.4 L443.7,111.5 L444.2,111.5 L444.7,111.5 L445.2,111.6 L445.7,111.6 L446.2,111.6 L446.8,111.6 L447.3,111.7 L447.8,111.7 L448.3,111.7 L448.8,111.7 L449.3,111.8 L449.9,111.8 L450.4,111.8 L450.9,111.8 L451.5,111.8 L452.0,111.8 L452.6,111.8" fill="none" stroke="#ff0000" stroke-width="6.8" stroke-linecap="round" stroke-linejoin="round"/>
<rect x="75.45" y="16.9" width="450.15000000000003" height="355.1" stroke="#7a7a7a" stroke-width="1.1" fill="none"/>
<path d="M125.47,372.0v-4.5M125.47,16.9v4.5M225.50,372.0v-4.5M225.50,16.9v4.5M325.53,372.0v-4.5M325.53,16.9v4.5M425.57,372.0v-4.5M425.57,16.9v4.5M525.60,372.0v-4.5M525.60,16.9v4.5M75.45,16.90h4.5M525.6,16.90h-4.5M75.45,87.92h4.5M525.6,87.92h-4.5M75.45,158.94h4.5M525.6,158.94h-4.5M75.45,229.96h4.5M525.6,229.96h-4.5M75.45,300.98h4.5M525.6,300.98h-4.5M75.45,372.00h4.5M525.6,372.00h-4.5" stroke="#7a7a7a" stroke-width="1.1" fill="none"/>
<g font-family="Liberation Sans, Arial, Helvetica, sans-serif" font-size="19.5" fill="#262626">
<text x="125.5" y="399.2" text-anchor="middle">-1.2</text>
<text x="225.5" y="399.2" text-anchor="middle">-1</text>
<text x="325.5" y="399.2" text-anchor="middle">-0.8</text>
<text x="425.6" y="399.2" text-anchor="middle">-0.6</text>
<text x="525.6" y="399.2" text-anchor="middle">-0.4</text>
<text x="68.6" y="25.3" text-anchor="end">-0.4</text>
<text x="68.6" y="96.3" text-anchor="end">-0.6</text>
<text x="68.6" y="167.3" text-anchor="end">-0.8</text>
<text x="68.6" y="238.4" text-anchor="end">-1</text>
<text x="68.6" y="309.4" text-anchor="end">-1.2</text>
<text x="68.6" y="380.4" text-anchor="end">-1.4</text>
</g>
<g font-family="Liberation Sans, Arial, Helvetica, sans-serif" font-size="21.4" fill="#262626">
<text x="300.5" y="426.2" text-anchor="middle">Objective function 1</text>
<text transform="translate(26.5,195.5) rotate(-90)" text-anchor="middle">Objective function 2</text>
</g>
<rect x="85.05" y="24.85" width="144.55" height="101.05" fill="#fff" stroke="#808080" stroke-width="1.1"/>
<g font-family="Liberation Sans, Arial, Helvetica, sans-serif" font-size="19.5" fill="#000">
<circle cx="104.7" cy="39.50" r="3.4" fill="#ff0000"/>
<text x="124" y="46.90">Pareto front</text>
<circle cx="104.7" cy="64.05" r="3.4" fill="#0000ff"/>
<text x="124" y="71.45">Region 1</text>
<circle cx="104.7" cy="88.60" r="3.4" fill="#00ff00"/>
<text x="124" y="96.00">Region 2</text>
<circle cx="104.7" cy="113.15" r="3.4" fill="#000000"/>
<text x="124" y="120.55">Region 3</text>
</g>
</svg>
</body></html>
